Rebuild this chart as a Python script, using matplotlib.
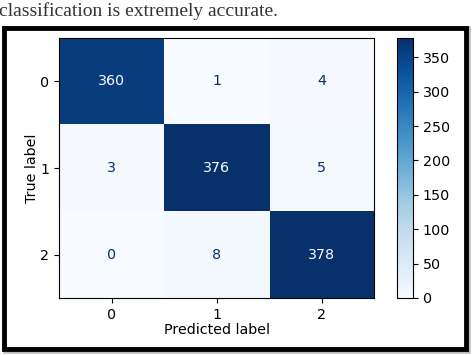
import numpy as np
import matplotlib
matplotlib.use('Agg')
import matplotlib.pyplot as plt
from matplotlib.patches import Rectangle

labels = ['0', '1', '2']
cm = np.array([[360, 1, 4],
               [3, 376, 5],
               [0, 8, 378]])
caption = 'classification is extremely accurate.'

fig = plt.figure(figsize=(4.74, 3.56), dpi=100)

# caption above the framed screenshot
fig.text(-0.003, 0.968, caption, family='Liberation Serif', fontsize=14,
         color='#333333', ha='left', va='center')

# shadow + black frame (behind the axes)
fig.patches.append(Rectangle((0.012, 0.014), 0.975, 0.905, transform=fig.transFigure,
                             facecolor='none', edgecolor='#bbbbbb', linewidth=4, zorder=-2))
fig.patches.append(Rectangle((0.008, 0.02), 0.975, 0.90, transform=fig.transFigure,
                             facecolor='white', edgecolor='black', linewidth=3.5, zorder=-1))

ax = fig.add_axes([0.1245, 0.163, 0.665, 0.730])
cax = fig.add_axes([0.8376, 0.163, 0.034, 0.730])

fs = 10.3
cmap = plt.cm.Blues
im = ax.imshow(cm, cmap=cmap, vmin=0, vmax=cm.max(), aspect='auto')
thresh = cm.max() / 2
for i in range(3):
    for j in range(3):
        color = cmap(0.0) if cm[i, j] > thresh else cmap(1.0)
        ax.text(j, i, str(cm[i, j]), ha='center', va='center', color=color, fontsize=fs)

ax.set_xticks(range(3))
ax.set_yticks(range(3))
ax.set_xticklabels(labels, fontsize=fs)
ax.set_yticklabels(labels, fontsize=fs)
ax.set_xlabel('Predicted label', fontsize=fs, labelpad=1)
ax.set_ylabel('True label', fontsize=fs, labelpad=1)

cb = fig.colorbar(im, cax=cax)
cb.set_ticks([0, 50, 100, 150, 200, 250, 300, 350])
cb.ax.tick_params(labelsize=fs)

fig.savefig('out.png', dpi=100)
